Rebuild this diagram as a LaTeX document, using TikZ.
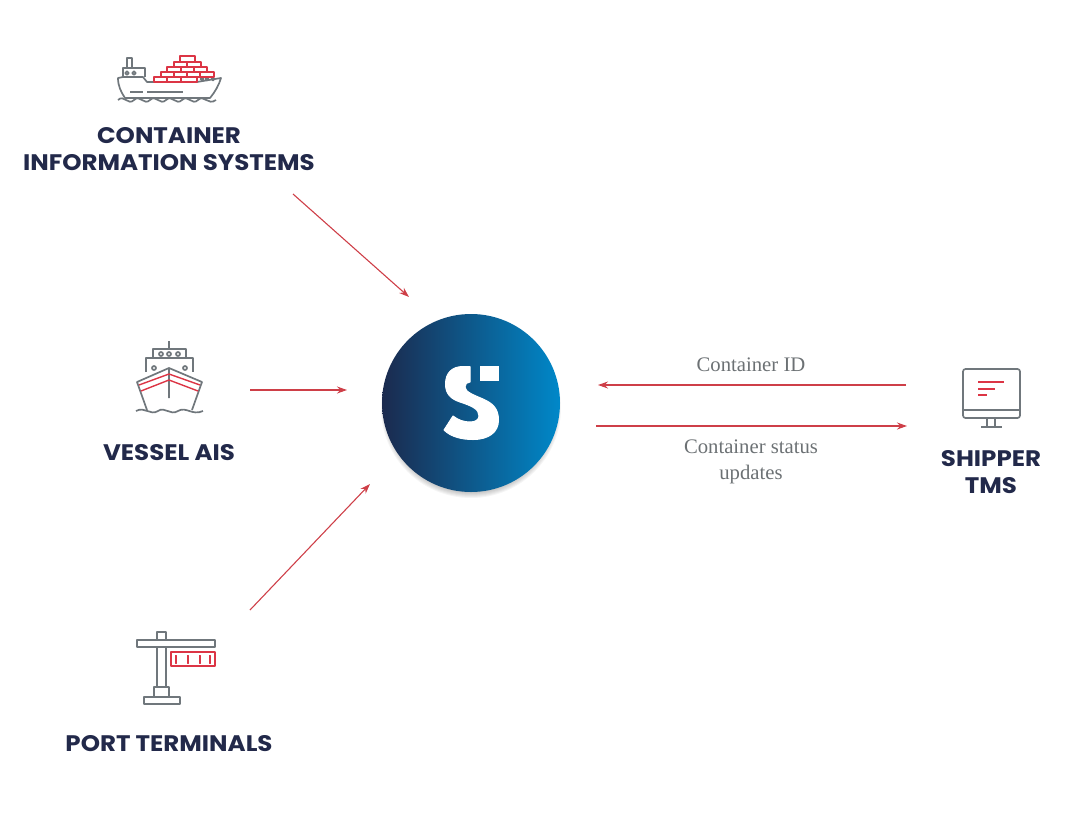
\documentclass[tikz,border=0pt]{standalone}
\usepackage{fontspec}
\setmainfont{Liberation Serif}
\newfontfamily\labelfont[FakeStretch=1.09]{Poppins}
\usetikzlibrary{arrows.meta}
\definecolor{navy}{HTML}{22294A}
\definecolor{flowred}{HTML}{CE3F48}
\definecolor{iconred}{HTML}{DC3545}
\definecolor{icongray}{HTML}{70777C}
\definecolor{notegray}{HTML}{6C7174}
\definecolor{hubleft}{HTML}{1B2A4E}
\definecolor{hubright}{HTML}{0088C9}
\tikzset{
  source/.style={text=navy, align=center, font=\labelfont\bfseries\fontsize{22.5}{27}\selectfont},
  note/.style={text=notegray, align=center, font=\fontsize{20.7}{26}\selectfont},
  flow/.style={-{Stealth[length=10pt,width=7pt]}, flowred, line width=1.1pt},
  gline/.style={icongray, line width=1.7pt, line join=round},
  rline/.style={iconred, line width=1.4pt, line join=round}
}
\begin{document}
\begin{tikzpicture}[x=1pt, y=-1pt]
\useasboundingbox (0,0) rectangle (1066,812);

% hub
\foreach \r in {84,85,86,87,88,89,90}
  \fill[black, opacity=.04] (471,408) circle (\r);
\node[circle, inner sep=0pt, minimum size=178pt, left color=hubleft, right color=hubright] (hub) at (471,403) {};
\filldraw[white, line width=1pt, line join=round] (470,366.5) -- (463,366.5) .. controls (452,366.5) and (445.5,373) .. (445.5,384)
  .. controls (445.5,394) and (451,399) .. (460,402) .. controls (472,406) and (479,409) .. (479,416)
  .. controls (479,420) and (475,422) .. (470,422) .. controls (464,422) and (458,420) .. (453,416)
  -- (444,430) .. controls (451,437) and (462,439.5) .. (473,439.5) .. controls (489,439.5) and (498.5,432) .. (498.5,420)
  .. controls (498.5,408) and (492,403) .. (483,399) .. controls (474,395) and (465,392) .. (465,387)
  .. controls (465,384) and (467,382) .. (470,382) -- cycle;
\fill[white] (480,366) rectangle (499,381);

% labels
\node[source] (cis) at (169,149) {CONTAINER\\INFORMATION SYSTEMS};
\node[source] (ais) at (169,453) {VESSEL AIS};
\node[source] (port) at (169,744) {PORT TERMINALS};
\node[source] (tms) at (991,472) {SHIPPER\\TMS};
\node[note] (idnote) at (751,365) {Container ID};
\node[note] (statusnote) at (751,462) {Container status\\updates};

% connectors
\coordinate (cis out) at (293,194);
\coordinate (hub a) at (409,297);
\coordinate (ais out) at (250,390);
\coordinate (hub b) at (347,390);
\coordinate (port out) at (250,610);
\coordinate (hub c) at (370,484);
\coordinate (tms out) at (906,385);
\coordinate (hub d) at (598,385);
\coordinate (hub e) at (596,426);
\coordinate (tms in) at (907,426);
\draw[flow] (cis out) -- (hub a);
\draw[flow] (ais out) -- (hub b);
\draw[flow] (port out) -- (hub c);
\draw[flow] (tms out) -- (hub d);
\draw[flow] (hub e) -- (tms in);

% container ship
\draw[gline] (118,78) .. controls (118,86) and (121,92) .. (125,98) -- (210,98) .. controls (215,92) and (219,85) .. (221,78)
  -- (197,82) -- (147,82) -- (143,77) -- (123,77) -- cycle;
\draw[gline] (123,77) -- (123,68) -- (145,68) -- (145,77) (127,68) -- (127,58) -- (132,58) -- (132,68);
\draw[gline] (127,73) circle (1.8) (134,73) circle (1.8) (202,79) circle (1.5) (207,79) circle (1.5) (213,79) circle (1.5);
\draw[gline] (130,92) -- (143,92) (147,92) -- (183,92);
\draw[gline] (118,100) .. controls (124,94) and (128,106) .. (134,100) .. controls (140,94) and (144,106) .. (150,100)
  .. controls (156,94) and (160,106) .. (166,100) .. controls (172,94) and (176,106) .. (182,100)
  .. controls (188,94) and (192,106) .. (198,100) .. controls (204,94) and (208,106) .. (216,100);
\draw[rline] (180,56) rectangle (195,62) (174,62) rectangle (201,67) (167,67) rectangle (207,72)
  (161,72) rectangle (214,77) (154,77) rectangle (197,82);
\draw[rline] (187,62) -- (187,67) (181,67) -- (181,72) (194,67) -- (194,72) (174,72) -- (174,77) (187,72) -- (187,77)
  (200,72) -- (200,77) (167,77) -- (167,82) (181,77) -- (181,82);

% vessel
\draw[gline] (169,341) -- (169,349);
\draw[gline] (153,358) -- (153,349) -- (186,349) -- (186,358);
\draw[gline] (146,372) -- (146,358) -- (193,358) -- (193,372);
\draw[gline] (161,354) circle (2) (169,354) circle (2) (178,354) circle (2) (154,368) circle (2) (185,368) circle (2);
\draw[gline] (147,410) -- (137,382) -- (169,368) -- (202,382) -- (192,410) (169,368) -- (169,398);
\draw[gline] (136,411) .. controls (145,406) and (150,416) .. (158,411) .. controls (165,406) and (170,416) .. (178,411)
  .. controls (186,406) and (192,416) .. (203,411);
\draw[rline] (139,385) -- (169,374) -- (200,385) (141,391) -- (169,380) -- (198,391);

% crane
\draw[gline] (157,640) -- (157,632) -- (166,632) -- (166,640);
\draw[gline] (137,640) rectangle (215,647);
\draw[gline] (157,647) -- (157,687) (166,647) -- (166,687);
\draw[gline] (154,697) -- (154,687) -- (169,687) -- (169,697);
\draw[gline] (144,697) rectangle (180,704);
\draw[rline] (171,652) rectangle (215,666);
\foreach \bx in {176,188,200,210}
  \draw[rline, line width=1pt] (\bx-.8,655) rectangle (\bx+.8,663);

% monitor
\draw[gline, rounded corners=2.5pt] (963,369) rectangle (1020,418);
\draw[gline] (963,410) -- (1020,410);
\draw[gline] (987,418) -- (987,427) (995,418) -- (995,427) (981,427) -- (1002,427);
\draw[rline, line width=1.5pt] (978,382) -- (1004,382) (978,389) -- (995,389) (978,395) -- (987,395);
\end{tikzpicture}
\end{document}
